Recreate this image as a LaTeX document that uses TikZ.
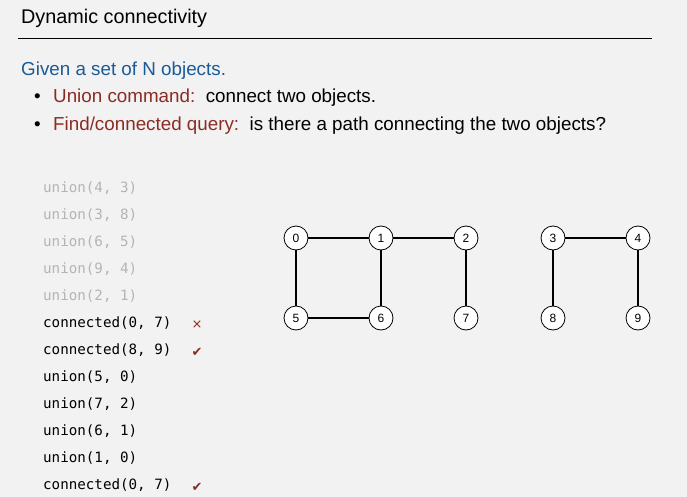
\documentclass[tikz,border=0pt]{standalone}
\usepackage{fontspec}
\setmainfont{Liberation Sans}
\newfontfamily\codefont{DejaVu Sans Mono}
\newfontfamily\symfont{DejaVu Sans}
\definecolor{bg}{HTML}{F2F2F2}
\definecolor{blueT}{HTML}{1A5A96}
\definecolor{redT}{HTML}{8B2C22}
\definecolor{greyT}{HTML}{B4B4B4}
\begin{document}
\begin{tikzpicture}[x=1pt,y=-1pt,
  obj/.style={circle,draw,thick,fill=white,minimum size=24pt,inner sep=0pt,font=\fontsize{12}{12}\selectfont},
  edge/.style={line width=1.8pt},
  txt/.style={anchor=west,inner sep=0pt,font=\fontsize{18.8}{22}\selectfont},
  code/.style={anchor=west,inner sep=0pt,font=\codefont\fontsize{14.2}{16}\selectfont},
  tick/.style={anchor=center,inner sep=0pt,text=redT,font=\symfont\fontsize{13}{13}\selectfont}]
\fill[bg] (0,0) rectangle (687,497);
\useasboundingbox (0,0) rectangle (687,497);
\node[txt,font=\fontsize{19.8}{22}\selectfont] (title) at (21,18) {Dynamic connectivity};
\coordinate (r1) at (18,38); \coordinate (r2) at (652,38);
\draw[line width=0.8pt] (r1) -- (r2);
\node[txt,text=blueT] (given) at (21,71) {Given a set of N objects.};
\node[txt] (b1) at (34,98) {\textbullet};
\node[txt] (u) at (53,98) {\textcolor{redT}{Union command:}\ \ connect two objects.};
\node[txt] (b2) at (34,126) {\textbullet};
\node[txt] (f) at (53,126) {\textcolor{redT}{Find/connected query:}\ \ is there a path connecting the two objects?};
\node[code,text=greyT] (c1) at (43,188) {union(4, 3)};
\node[code,text=greyT] (c2) at (43,215) {union(3, 8)};
\node[code,text=greyT] (c3) at (43,242) {union(6, 5)};
\node[code,text=greyT] (c4) at (43,269) {union(9, 4)};
\node[code,text=greyT] (c5) at (43,296) {union(2, 1)};
\node[code] (c6) at (43,323) {connected(0, 7)};
\node[code] (c7) at (43,350) {connected(8, 9)};
\node[code] (c8) at (43,377) {union(5, 0)};
\node[code] (c9) at (43,404) {union(7, 2)};
\node[code] (c10) at (43,431) {union(6, 1)};
\node[code] (c11) at (43,458) {union(1, 0)};
\node[code] (c12) at (43,485) {connected(0, 7)};
\node[tick] (m1) at (197,325) {×};
\node[tick] (m2) at (197,352) {✔};
\node[tick] (m3) at (197,487) {✔};
\node[obj] (n0) at (296,238) {0};
\node[obj] (n1) at (381,238) {1};
\node[obj] (n2) at (466,238) {2};
\node[obj] (n3) at (553,238) {3};
\node[obj] (n4) at (638,238) {4};
\node[obj] (n5) at (296,318) {5};
\node[obj] (n6) at (381,318) {6};
\node[obj] (n7) at (466,318) {7};
\node[obj] (n8) at (553,318) {8};
\node[obj] (n9) at (638,318) {9};
\draw[edge] (n0)--(n1) (n1)--(n2) (n3)--(n4) (n5)--(n6)
  (n0)--(n5) (n1)--(n6) (n2)--(n7) (n3)--(n8) (n4)--(n9);
\end{tikzpicture}
\end{document}
